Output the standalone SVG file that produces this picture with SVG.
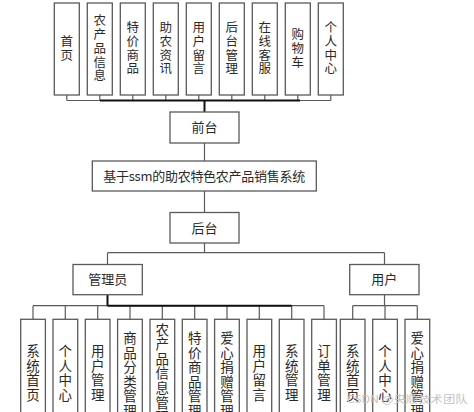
<svg xmlns="http://www.w3.org/2000/svg" width="474" height="412" viewBox="0 0 474 412">
<style>
.bg{fill:#fff}
.box rect{fill:#fff;stroke:#5a5a5a;stroke-width:1.3}
.t{font-family:"Noto Sans CJK SC","Liberation Sans",sans-serif;fill:#2a2a2a;text-anchor:middle}
.vt{font-size:12.5px}
.vb{font-size:13.5px}
.h{font-size:13px}
.ln{stroke:#5a5a5a;stroke-width:1.2;fill:none}
.thick{stroke:#111;stroke-width:2;fill:none}
.wm{font-family:"Noto Sans CJK SC","Liberation Sans",sans-serif;font-size:10px;fill:#c4c4c4}
</style>
<rect class="bg" x="0" y="0" width="474" height="412"/>

<g id="connectors">
  <!-- top bracket -->
  <path class="ln" d="M66.8 95V100.5M99.8 95V100.5M132.8 95V100.5M165.8 95V100.5M198.8 95V100.5M231.8 95V100.5M264.8 95V100.5M297.8 95V100.5M330.8 95V100.5M66.8 100.5H330.8"/>
  <path class="thick" d="M100 100.5H300M204.5 100.5V112"/>
  <!-- vertical chain -->
  <path class="ln" d="M204.5 143V161M204.5 191V212.5M204.5 243V252.7M107.5 252.7H384.5M107.5 252.7V264.5M384.5 252.7V264.5"/>
  <!-- admin bracket -->
  <path class="ln" d="M33 305.7H324M33 305.7V319.3M65.3 305.7V319.3M97.7 305.7V319.3M130 305.7V319.3M162.3 305.7V319.3M194.7 305.7V319.3M227 305.7V319.3M259.3 305.7V319.3M291.7 305.7V319.3M324 305.7V319.3"/>
  <path class="thick" d="M107.5 294.7V305.7M107.5 305.7H291.7"/>
  <!-- user bracket -->
  <path class="ln" d="M384.5 294.7V305.7M352.7 305.7H417.3M352.7 305.7V319.3M385 305.7V319.3M417.3 305.7V319.3"/>
</g>

<!-- top row -->
<g id="n-shouye" class="box"><rect x="54.3" y="3" width="25" height="92"/><text class="t vt" x="66.8" y="45.8">首<tspan x="66.8" dy="13.8">页</tspan></text></g>
<g id="n-ncpxx" class="box"><rect x="87.3" y="3" width="25" height="92"/><text class="t vt" x="99.8" y="25.1">农<tspan x="99.8" dy="13.8">产</tspan><tspan x="99.8" dy="13.8">品</tspan><tspan x="99.8" dy="13.8">信</tspan><tspan x="99.8" dy="13.8">息</tspan></text></g>
<g id="n-tjsp" class="box"><rect x="120.3" y="3" width="25" height="92"/><text class="t vt" x="132.8" y="32">特<tspan x="132.8" dy="13.8">价</tspan><tspan x="132.8" dy="13.8">商</tspan><tspan x="132.8" dy="13.8">品</tspan></text></g>
<g id="n-znzx" class="box"><rect x="153.3" y="3" width="25" height="92"/><text class="t vt" x="165.8" y="32">助<tspan x="165.8" dy="13.8">农</tspan><tspan x="165.8" dy="13.8">资</tspan><tspan x="165.8" dy="13.8">讯</tspan></text></g>
<g id="n-yhly" class="box"><rect x="186.3" y="3" width="25" height="92"/><text class="t vt" x="198.8" y="32">用<tspan x="198.8" dy="13.8">户</tspan><tspan x="198.8" dy="13.8">留</tspan><tspan x="198.8" dy="13.8">言</tspan></text></g>
<g id="n-htgl" class="box"><rect x="219.3" y="3" width="25" height="92"/><text class="t vt" x="231.8" y="32">后<tspan x="231.8" dy="13.8">台</tspan><tspan x="231.8" dy="13.8">管</tspan><tspan x="231.8" dy="13.8">理</tspan></text></g>
<g id="n-zxkf" class="box"><rect x="252.3" y="3" width="25" height="92"/><text class="t vt" x="264.8" y="32">在<tspan x="264.8" dy="13.8">线</tspan><tspan x="264.8" dy="13.8">客</tspan><tspan x="264.8" dy="13.8">服</tspan></text></g>
<g id="n-gwc" class="box"><rect x="285.3" y="3" width="25" height="92"/><text class="t vt" x="297.8" y="38.9">购<tspan x="297.8" dy="13.8">物</tspan><tspan x="297.8" dy="13.8">车</tspan></text></g>
<g id="n-grzx" class="box"><rect x="318.3" y="3" width="25" height="92"/><text class="t vt" x="330.8" y="32">个<tspan x="330.8" dy="13.8">人</tspan><tspan x="330.8" dy="13.8">中</tspan><tspan x="330.8" dy="13.8">心</tspan></text></g>

<!-- middle -->
<g id="n-qiantai" class="box"><rect x="170" y="112" width="69" height="31"/><text class="t h" x="204.5" y="132">前台</text></g>
<g id="n-system" class="box"><rect x="92.3" y="161" width="224" height="30"/><text class="t h" x="204.3" y="180.5" textLength="202" lengthAdjust="spacing">基于ssm的助农特色农产品销售系统</text></g>
<g id="n-houtai" class="box"><rect x="170" y="212.5" width="69" height="30.5"/><text class="t h" x="204.5" y="232.5">后台</text></g>
<g id="n-admin" class="box"><rect x="73" y="264.5" width="69.3" height="30.2"/><text class="t h" x="107.7" y="284.3">管理员</text></g>
<g id="n-user" class="box"><rect x="349.7" y="264.5" width="69.3" height="30.2"/><text class="t h" x="384.3" y="284.3">用户</text></g>

<!-- admin children -->
<g id="a-xtsy" class="box"><rect x="20.7" y="319.3" width="24.7" height="110"/><text class="t vb" x="33" y="356">系<tspan x="33" dy="14.6">统</tspan><tspan x="33" dy="14.6">首</tspan><tspan x="33" dy="14.6">页</tspan></text></g>
<g id="a-grzx" class="box"><rect x="53" y="319.3" width="24.7" height="110"/><text class="t vb" x="65.3" y="356">个<tspan x="65.3" dy="14.6">人</tspan><tspan x="65.3" dy="14.6">中</tspan><tspan x="65.3" dy="14.6">心</tspan></text></g>
<g id="a-yhgl" class="box"><rect x="85.3" y="319.3" width="24.7" height="110"/><text class="t vb" x="97.7" y="356">用<tspan x="97.7" dy="14.6">户</tspan><tspan x="97.7" dy="14.6">管</tspan><tspan x="97.7" dy="14.6">理</tspan></text></g>
<g id="a-spfl" class="box"><rect x="117.6" y="319.3" width="24.7" height="110"/><text class="t vb" x="130" y="343">商<tspan x="130" dy="14.6">品</tspan><tspan x="130" dy="14.6">分</tspan><tspan x="130" dy="14.6">类</tspan><tspan x="130" dy="14.6">管</tspan><tspan x="130" dy="14.6">理</tspan></text></g>
<g id="a-ncpxx" class="box"><rect x="150" y="319.3" width="24.7" height="110"/><text class="t vb" x="162.3" y="334.5">农<tspan x="162.3" dy="14.6">产</tspan><tspan x="162.3" dy="14.6">品</tspan><tspan x="162.3" dy="14.6">信</tspan><tspan x="162.3" dy="14.6">息</tspan><tspan x="162.3" dy="14.6">管</tspan><tspan x="162.3" dy="14.6">理</tspan></text></g>
<g id="a-tjsp" class="box"><rect x="182.3" y="319.3" width="24.7" height="110"/><text class="t vb" x="194.7" y="343">特<tspan x="194.7" dy="14.6">价</tspan><tspan x="194.7" dy="14.6">商</tspan><tspan x="194.7" dy="14.6">品</tspan><tspan x="194.7" dy="14.6">管</tspan><tspan x="194.7" dy="14.6">理</tspan></text></g>
<g id="a-axjz" class="box"><rect x="214.6" y="319.3" width="24.7" height="110"/><text class="t vb" x="227" y="343">爱<tspan x="227" dy="14.6">心</tspan><tspan x="227" dy="14.6">捐</tspan><tspan x="227" dy="14.6">赠</tspan><tspan x="227" dy="14.6">管</tspan><tspan x="227" dy="14.6">理</tspan></text></g>
<g id="a-yhly" class="box"><rect x="247" y="319.3" width="24.7" height="110"/><text class="t vb" x="259.3" y="356">用<tspan x="259.3" dy="14.6">户</tspan><tspan x="259.3" dy="14.6">留</tspan><tspan x="259.3" dy="14.6">言</tspan></text></g>
<g id="a-xtgl" class="box"><rect x="279.3" y="319.3" width="24.7" height="110"/><text class="t vb" x="291.7" y="356">系<tspan x="291.7" dy="14.6">统</tspan><tspan x="291.7" dy="14.6">管</tspan><tspan x="291.7" dy="14.6">理</tspan></text></g>
<g id="a-ddgl" class="box"><rect x="311.7" y="319.3" width="24.7" height="110"/><text class="t vb" x="324" y="356">订<tspan x="324" dy="14.6">单</tspan><tspan x="324" dy="14.6">管</tspan><tspan x="324" dy="14.6">理</tspan></text></g>

<!-- user children -->
<g id="u-xtsy" class="box"><rect x="340.3" y="319.3" width="24.7" height="110"/><text class="t vb" x="352.7" y="356">系<tspan x="352.7" dy="14.6">统</tspan><tspan x="352.7" dy="14.6">首</tspan><tspan x="352.7" dy="14.6">页</tspan></text></g>
<g id="u-grzx" class="box"><rect x="372.7" y="319.3" width="24.7" height="110"/><text class="t vb" x="385" y="356">个<tspan x="385" dy="14.6">人</tspan><tspan x="385" dy="14.6">中</tspan><tspan x="385" dy="14.6">心</tspan></text></g>
<g id="u-axjz" class="box"><rect x="405" y="319.3" width="24.7" height="110"/><text class="t vb" x="417.3" y="343">爱<tspan x="417.3" dy="14.6">心</tspan><tspan x="417.3" dy="14.6">捐</tspan><tspan x="417.3" dy="14.6">赠</tspan><tspan x="417.3" dy="14.6">管</tspan><tspan x="417.3" dy="14.6">理</tspan></text></g>

<text class="wm" x="346.7" y="403" textLength="121" lengthAdjust="spacingAndGlyphs">CSDN @央顺技术团队</text>
</svg>
